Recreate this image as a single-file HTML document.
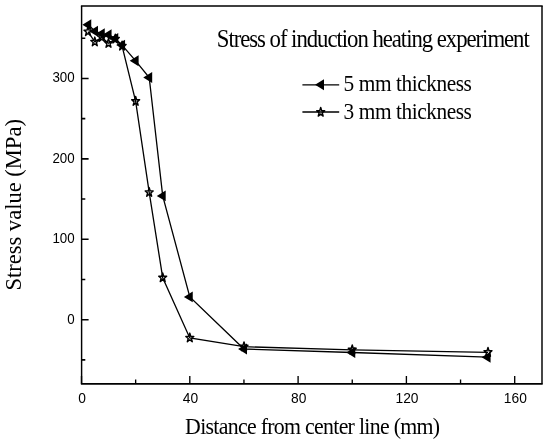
<!DOCTYPE html><html><head><meta charset="utf-8"><title>Stress chart</title><style>html,body{margin:0;padding:0;background:#fff}svg{display:block}text{fill:#000}.t{font-family:"Liberation Sans",Arial,sans-serif;font-size:15px}.s{font-family:"Liberation Serif","Times New Roman",serif}</style></head><body>
<svg width="550" height="444" viewBox="0 0 550 444">
<rect width="550" height="444" fill="#fff"/>
<path d="M80.89999999999999,6.0H542.7M80.89999999999999,383.8H542.7" stroke="#000" stroke-width="1.7" fill="none"/>
<path d="M81.6,6.0V383.8M542.0,6.0V383.8" stroke="#000" stroke-width="1.45" fill="none"/>
<path d="M81.50,383.8v-7.8 M135.65,383.8v-4.2 M189.80,383.8v-7.8 M243.95,383.8v-4.2 M298.10,383.8v-7.8 M352.25,383.8v-4.2 M406.40,383.8v-7.8 M460.55,383.8v-4.2 M514.70,383.8v-7.8" stroke="#000" stroke-width="1.35" fill="none"/>
<path d="M81.6,359.91h3.7 M81.6,319.70h7 M81.6,279.49h3.7 M81.6,239.28h7 M81.6,199.07h3.7 M81.6,158.86h7 M81.6,118.65h3.7 M81.6,78.44h7 M81.6,38.23h3.7" stroke="#000" stroke-width="1.6" fill="none"/>
<text class="t" transform="translate(82.10,403.0) scale(0.92,1)" text-anchor="middle">0</text>
<text class="t" transform="translate(190.40,403.0) scale(0.92,1)" text-anchor="middle">40</text>
<text class="t" transform="translate(298.70,403.0) scale(0.92,1)" text-anchor="middle">80</text>
<text class="t" transform="translate(407.00,403.0) scale(0.92,1)" text-anchor="middle">120</text>
<text class="t" transform="translate(515.30,403.0) scale(0.92,1)" text-anchor="middle">160</text>
<text class="t" transform="translate(74.7,323.60) scale(0.89,1)" text-anchor="end">0</text>
<text class="t" transform="translate(74.7,243.18) scale(0.89,1)" text-anchor="end">100</text>
<text class="t" transform="translate(74.7,162.76) scale(0.89,1)" text-anchor="end">200</text>
<text class="t" transform="translate(74.7,82.34) scale(0.89,1)" text-anchor="end">300</text>
<polyline fill="none" stroke="#000" stroke-width="1.3" points="88.0,31.6 94.8,41.9 101.8,37.4 108.5,43.3 115.3,39.0 122.1,46.0 135.65,101.3 149.2,192.4 162.7,277.7 189.8,337.9 244.0,346.7 352.25,349.8 488.0,352.3"/>
<polyline fill="none" stroke="#000" stroke-width="1.3" points="88.3,24.7 95.0,31.2 101.8,33.8 108.6,34.7 115.3,38.5 122.1,45.1 135.65,60.8 149.2,77.5 162.7,195.9 189.8,296.9 244.0,349.0 352.25,352.5 487.6,357.2"/>
<polygon points="88.00,26.80 88.97,30.06 91.97,30.12 89.57,32.19 90.45,35.48 88.00,33.50 85.55,35.48 86.43,32.19 84.03,30.12 87.03,30.06" fill="none" stroke="#000" stroke-width="1.45" stroke-linejoin="round"/>
<polygon points="94.80,37.10 95.77,40.36 98.77,40.42 96.37,42.49 97.25,45.78 94.80,43.80 92.35,45.78 93.23,42.49 90.83,40.42 93.83,40.36" fill="none" stroke="#000" stroke-width="1.45" stroke-linejoin="round"/>
<polygon points="101.80,32.60 102.77,35.86 105.77,35.92 103.37,37.99 104.25,41.28 101.80,39.30 99.35,41.28 100.23,37.99 97.83,35.92 100.83,35.86" fill="none" stroke="#000" stroke-width="1.45" stroke-linejoin="round"/>
<polygon points="108.50,38.50 109.47,41.76 112.47,41.82 110.07,43.89 110.95,47.18 108.50,45.20 106.05,47.18 106.93,43.89 104.53,41.82 107.53,41.76" fill="none" stroke="#000" stroke-width="1.45" stroke-linejoin="round"/>
<polygon points="115.30,34.20 116.27,37.46 119.27,37.52 116.87,39.59 117.75,42.88 115.30,40.90 112.85,42.88 113.73,39.59 111.33,37.52 114.33,37.46" fill="none" stroke="#000" stroke-width="1.45" stroke-linejoin="round"/>
<polygon points="122.10,41.20 123.07,44.46 126.07,44.52 123.67,46.59 124.55,49.88 122.10,47.90 119.65,49.88 120.53,46.59 118.13,44.52 121.13,44.46" fill="none" stroke="#000" stroke-width="1.45" stroke-linejoin="round"/>
<polygon points="135.65,96.50 136.62,99.76 139.62,99.82 137.22,101.89 138.10,105.18 135.65,103.20 133.20,105.18 134.08,101.89 131.68,99.82 134.68,99.76" fill="none" stroke="#000" stroke-width="1.45" stroke-linejoin="round"/>
<polygon points="149.20,187.60 150.17,190.86 153.17,190.92 150.77,192.99 151.65,196.28 149.20,194.30 146.75,196.28 147.63,192.99 145.23,190.92 148.23,190.86" fill="none" stroke="#000" stroke-width="1.45" stroke-linejoin="round"/>
<polygon points="162.70,272.90 163.67,276.16 166.67,276.22 164.27,278.29 165.15,281.58 162.70,279.60 160.25,281.58 161.13,278.29 158.73,276.22 161.73,276.16" fill="none" stroke="#000" stroke-width="1.45" stroke-linejoin="round"/>
<polygon points="189.80,333.10 190.77,336.36 193.77,336.42 191.37,338.49 192.25,341.78 189.80,339.80 187.35,341.78 188.23,338.49 185.83,336.42 188.83,336.36" fill="none" stroke="#000" stroke-width="1.45" stroke-linejoin="round"/>
<polygon points="244.00,341.90 244.97,345.16 247.97,345.22 245.57,347.29 246.45,350.58 244.00,348.60 241.55,350.58 242.43,347.29 240.03,345.22 243.03,345.16" fill="none" stroke="#000" stroke-width="1.45" stroke-linejoin="round"/>
<polygon points="352.25,345.00 353.22,348.26 356.22,348.32 353.82,350.39 354.70,353.68 352.25,351.70 349.80,353.68 350.68,350.39 348.28,348.32 351.28,348.26" fill="none" stroke="#000" stroke-width="1.45" stroke-linejoin="round"/>
<polygon points="488.00,347.50 488.97,350.76 491.97,350.82 489.57,352.89 490.45,356.18 488.00,354.20 485.55,356.18 486.43,352.89 484.03,350.82 487.03,350.76" fill="none" stroke="#000" stroke-width="1.45" stroke-linejoin="round"/>
<polygon points="82.37,24.70 91.27,19.25 91.27,30.15" fill="#000"/>
<polygon points="89.07,31.20 97.97,25.75 97.97,36.65" fill="#000"/>
<polygon points="95.87,33.80 104.77,28.35 104.77,39.25" fill="#000"/>
<polygon points="102.67,34.70 111.57,29.25 111.57,40.15" fill="#000"/>
<polygon points="109.37,38.50 118.27,33.05 118.27,43.95" fill="#000"/>
<polygon points="116.17,45.10 125.07,39.65 125.07,50.55" fill="#000"/>
<polygon points="129.72,60.80 138.62,55.35 138.62,66.25" fill="#000"/>
<polygon points="143.27,77.50 152.17,72.05 152.17,82.95" fill="#000"/>
<polygon points="156.77,195.90 165.67,190.45 165.67,201.35" fill="#000"/>
<polygon points="183.87,296.90 192.77,291.45 192.77,302.35" fill="#000"/>
<polygon points="238.07,349.00 246.97,343.55 246.97,354.45" fill="#000"/>
<polygon points="346.32,352.50 355.22,347.05 355.22,357.95" fill="#000"/>
<polygon points="481.67,357.20 490.57,351.75 490.57,362.65" fill="#000"/>
<path d="M302.4,84.8h36.8M302.4,112.0h36.8" stroke="#000" stroke-width="1.3"/>
<polygon points="315.07,84.70 323.97,79.25 323.97,90.15" fill="#000"/>
<polygon points="320.70,107.40 321.67,110.66 324.67,110.72 322.27,112.79 323.15,116.08 320.70,114.10 318.25,116.08 319.13,112.79 316.73,110.72 319.73,110.66" fill="none" stroke="#000" stroke-width="1.45" stroke-linejoin="round"/>
<text class="s" font-size="24.5" transform="translate(216.8,46.5) scale(0.93,1)" textLength="336.56" lengthAdjust="spacing">Stress of induction heating experiment</text>
<text class="s" font-size="23" transform="translate(343.6,91.2) scale(0.93,1)" textLength="137.96" lengthAdjust="spacing">5 mm thickness</text>
<text class="s" font-size="23" transform="translate(343.6,118.5) scale(0.93,1)" textLength="137.96" lengthAdjust="spacing">3 mm thickness</text>
<text class="s" font-size="23.5" transform="translate(185.1,434) scale(0.93,1)" textLength="274.19" lengthAdjust="spacing">Distance from center line (mm)</text>
<text class="s" font-size="22.5" transform="translate(21.0,290.6) rotate(-90)" textLength="171.5" lengthAdjust="spacingAndGlyphs">Stress value (MPa)</text>
</svg></body></html>
